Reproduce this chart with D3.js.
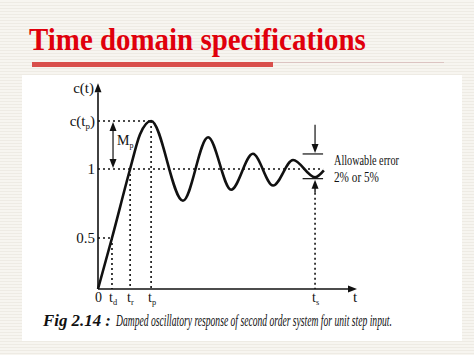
<!DOCTYPE html>
<html><head><meta charset="utf-8">
<script src="https://cdn.jsdelivr.net/npm/d3@7"></script>
<style>html,body{margin:0;padding:0;background:#f6f4ef;}svg{display:block;}</style>
</head><body>
<svg id="c" width="474" height="355"></svg>
<script>
// ---- data ----
const timeValues  = [0, 0.54, 1.24, 1.62, 2.05, 3.28, 4.25, 5.14, 5.98, 6.76, 7.53, 8.38, 8.72];
const respValues  = [0, 0.5, 1.0, 1.25, 1.348, 0.77, 1.23, 0.85, 1.11, 0.88, 1.065, 0.94, 0.99];
const yTickValues = [0.5, 1, 1.348];
const yTickLabels = ["0.5", "1", "c(t|p)"];
const xTickValues = [0, 0.54, 1.24, 2.05, 8.38];
const xTickLabels = ["0", "t|d", "t|r", "t|p", "t|s"];
const tMax = 10, cTop = 1.6;
const bandHigh = 1.109, bandLow = 0.93, bandStart = 7.9, bandEnd = 8.69, arrowTopC = 1.32;

const svg = d3.select("#c");
// background stripes
const defs = svg.append("defs");
const pat = defs.append("pattern").attr("id","st").attr("width",4).attr("height",3).attr("patternUnits","userSpaceOnUse");
pat.append("rect").attr("width",4).attr("height",3).attr("fill","#f7f5f0");
pat.append("rect").attr("y",2).attr("width",4).attr("height",1).attr("fill","#eeebe4");
svg.append("rect").attr("width",474).attr("height",355).attr("fill","url(#st)");
svg.append("rect").attr("x",22).attr("y",75).attr("width",440).attr("height",266).attr("fill","#ffffff");

const ink = "#111";
const serif = "Liberation Serif, Times New Roman, serif";

// text squeezed horizontally to a target width (scanned figure is condensed)
function fitText(str, x0, y0, width, size, opts) {
  const g = svg.append("g").attr("transform", `translate(${x0},${y0})`);
  const t = g.append("text").attr("x",0).attr("y",0).attr("font-family",serif)
    .attr("font-size",size).attr("fill",(opts&&opts.fill)||ink).text(str);
  if (opts && opts.italic) t.attr("font-style","italic");
  if (opts && opts.bold) t.attr("font-weight","bold");
  const len = t.node().getComputedTextLength();
  t.attr("transform", `scale(${width/len},1)`);
  return t;
}

// title
fitText("Time domain specifications", 29, 50, 337, 31, {bold:true, fill:"#e0000c"});
svg.append("line").attr("x1",32).attr("x2",444).attr("y1",62.5).attr("y2",62.5).attr("stroke","#dcc4c2").attr("stroke-width",1);
svg.append("rect").attr("x",32).attr("y",62).attr("width",241).attr("height",5).attr("fill","#d94f4c");

const x = d3.scaleLinear().domain([0, tMax]).range([98, 357]);
const y = d3.scaleLinear().domain([0, 0.5, 1]).range([289, 238, 169]);

function arrowHead(px, py, dir) {
  let pts;
  if (dir === "up") pts = [[px,py],[px-3.5,py+9],[px+3.5,py+9]];
  else if (dir === "down") pts = [[px,py],[px-3.5,py-9],[px+3.5,py-9]];
  else pts = [[px,py],[px-9,py-3.5],[px-9,py+3.5]];
  svg.append("path").attr("d", d3.line()(pts) + "Z").attr("fill", ink);
}
function dotted(x1,y1,x2,y2){
  svg.append("line").attr("x1",x1).attr("y1",y1).attr("x2",x2).attr("y2",y2)
    .attr("stroke",ink).attr("stroke-width",1.6).attr("stroke-dasharray","2,3");
}

// axes
const xAxis = d3.axisBottom(x).tickValues(xTickValues).tickSize(0).tickFormat("");
const gx = svg.append("g").attr("transform",`translate(0,${y(0)})`).call(xAxis);
gx.select(".domain").attr("stroke",ink).attr("stroke-width",1.6).attr("d",`M${x(0)},0H${x(tMax)-6}`);
arrowHead(x(tMax), y(0), "right");
const yAxis = d3.axisLeft(y).tickValues(yTickValues).tickSize(0).tickFormat("");
const gy = svg.append("g").attr("transform",`translate(${x(0)},0)`).call(yAxis);
gy.select(".domain").attr("stroke",ink).attr("stroke-width",1.6).attr("d",`M0,${y(0)}V${y(cTop)+6}`);
arrowHead(x(0), y(cTop)-3, "up");

function subText(sel, label, size, closeParen){
  const parts = label.split("|");
  sel.append("tspan").text(parts[0]);
  if (parts.length > 1) {
    sel.append("tspan").attr("font-size", size*0.6).attr("dy", 3).text(parts[1]);
    if (closeParen) sel.append("tspan").attr("dy",-3).text(")");
  }
}
// y tick labels
yTickValues.forEach((v,i)=>{
  const t = svg.append("text").attr("x", x(0)-3).attr("y", y(v)+5).attr("text-anchor","end")
    .attr("font-family",serif).attr("font-size",15).attr("fill",ink);
  const lab = yTickLabels[i];
  if (lab.includes("|")) subText(t, lab.replace(")",""), 15, true);
  else t.text(lab);
});
svg.append("text").attr("x",x(0)-4).attr("y",y(cTop)+7).attr("text-anchor","end")
  .attr("font-family",serif).attr("font-size",15).attr("fill",ink).text("c(t)");
// x tick labels
xTickValues.forEach((v,i)=>{
  const t = svg.append("text").attr("x", x(v)-3).attr("y", y(0)+13)
    .attr("font-family",serif).attr("font-size",14).attr("fill",ink);
  subText(t, xTickLabels[i], 14, false);
});
svg.append("text").attr("x", x(tMax)-4).attr("y", y(0)+13).attr("font-family",serif)
  .attr("font-size",15).attr("fill",ink).text("t");

// reference lines
dotted(x(0), y(1), x(bandEnd), y(1));
dotted(x(0), y(respValues[4]), x(timeValues[4]), y(respValues[4]));
dotted(x(0), y(0.5), x(timeValues[1]), y(0.5));
dotted(x(timeValues[1]), y(0.5), x(timeValues[1]), y(0));
dotted(x(timeValues[2]), y(1), x(timeValues[2]), y(0));
dotted(x(timeValues[4]), y(respValues[4]), x(timeValues[4]), y(0));
dotted(x(xTickValues[4]), y(bandLow)+14, x(xTickValues[4]), y(0));

// Mp arrow
const mpx = x(0.58);
svg.append("line").attr("x1",mpx).attr("x2",mpx).attr("y1",y(respValues[4])+8).attr("y2",y(1)-8).attr("stroke",ink).attr("stroke-width",1.2);
arrowHead(mpx, y(respValues[4])+1, "up");
arrowHead(mpx, y(1)-1, "down");
const mp = svg.append("text").attr("x",mpx+4).attr("y",y(1.2)+4).attr("font-family",serif).attr("font-size",14).attr("fill",ink);
mp.append("tspan").text("M");
mp.append("tspan").attr("font-size",8).attr("dy",3).text("p");

// curve
const pts = timeValues.map((t,i)=>[t, respValues[i]]);
svg.append("path").attr("d", d3.line().x(d=>x(d[0])).y(d=>y(d[1])).curve(d3.curveMonotoneX)(pts))
  .attr("fill","none").attr("stroke",ink).attr("stroke-width",2.6);

// allowable error band
[bandHigh, bandLow].forEach(v=>{
  svg.append("line").attr("x1",x(bandStart)).attr("x2",x(bandEnd)).attr("y1",y(v)).attr("y2",y(v)).attr("stroke",ink).attr("stroke-width",1.2);
});
const tsx = x(xTickValues[4]);
svg.append("line").attr("x1",tsx).attr("x2",tsx).attr("y1",y(arrowTopC)).attr("y2",y(bandHigh)-8).attr("stroke",ink).attr("stroke-width",1.2);
arrowHead(tsx, y(bandHigh)-1, "down");
svg.append("line").attr("x1",tsx).attr("x2",tsx).attr("y1",y(bandLow)+8).attr("y2",y(bandLow)+14).attr("stroke",ink).attr("stroke-width",1.4);
arrowHead(tsx, y(bandLow)+1, "up");
fitText("Allowable error", 334, 165, 65, 14);
fitText("2% or 5%", 334, 182, 45, 14);

// caption
fitText("Fig 2.14 :", 43, 326, 68, 16, {italic:true, bold:true});
fitText("Damped oscillatory response of second order system for unit step input.", 116, 326, 276, 16, {italic:true});
</script>
</body></html>
